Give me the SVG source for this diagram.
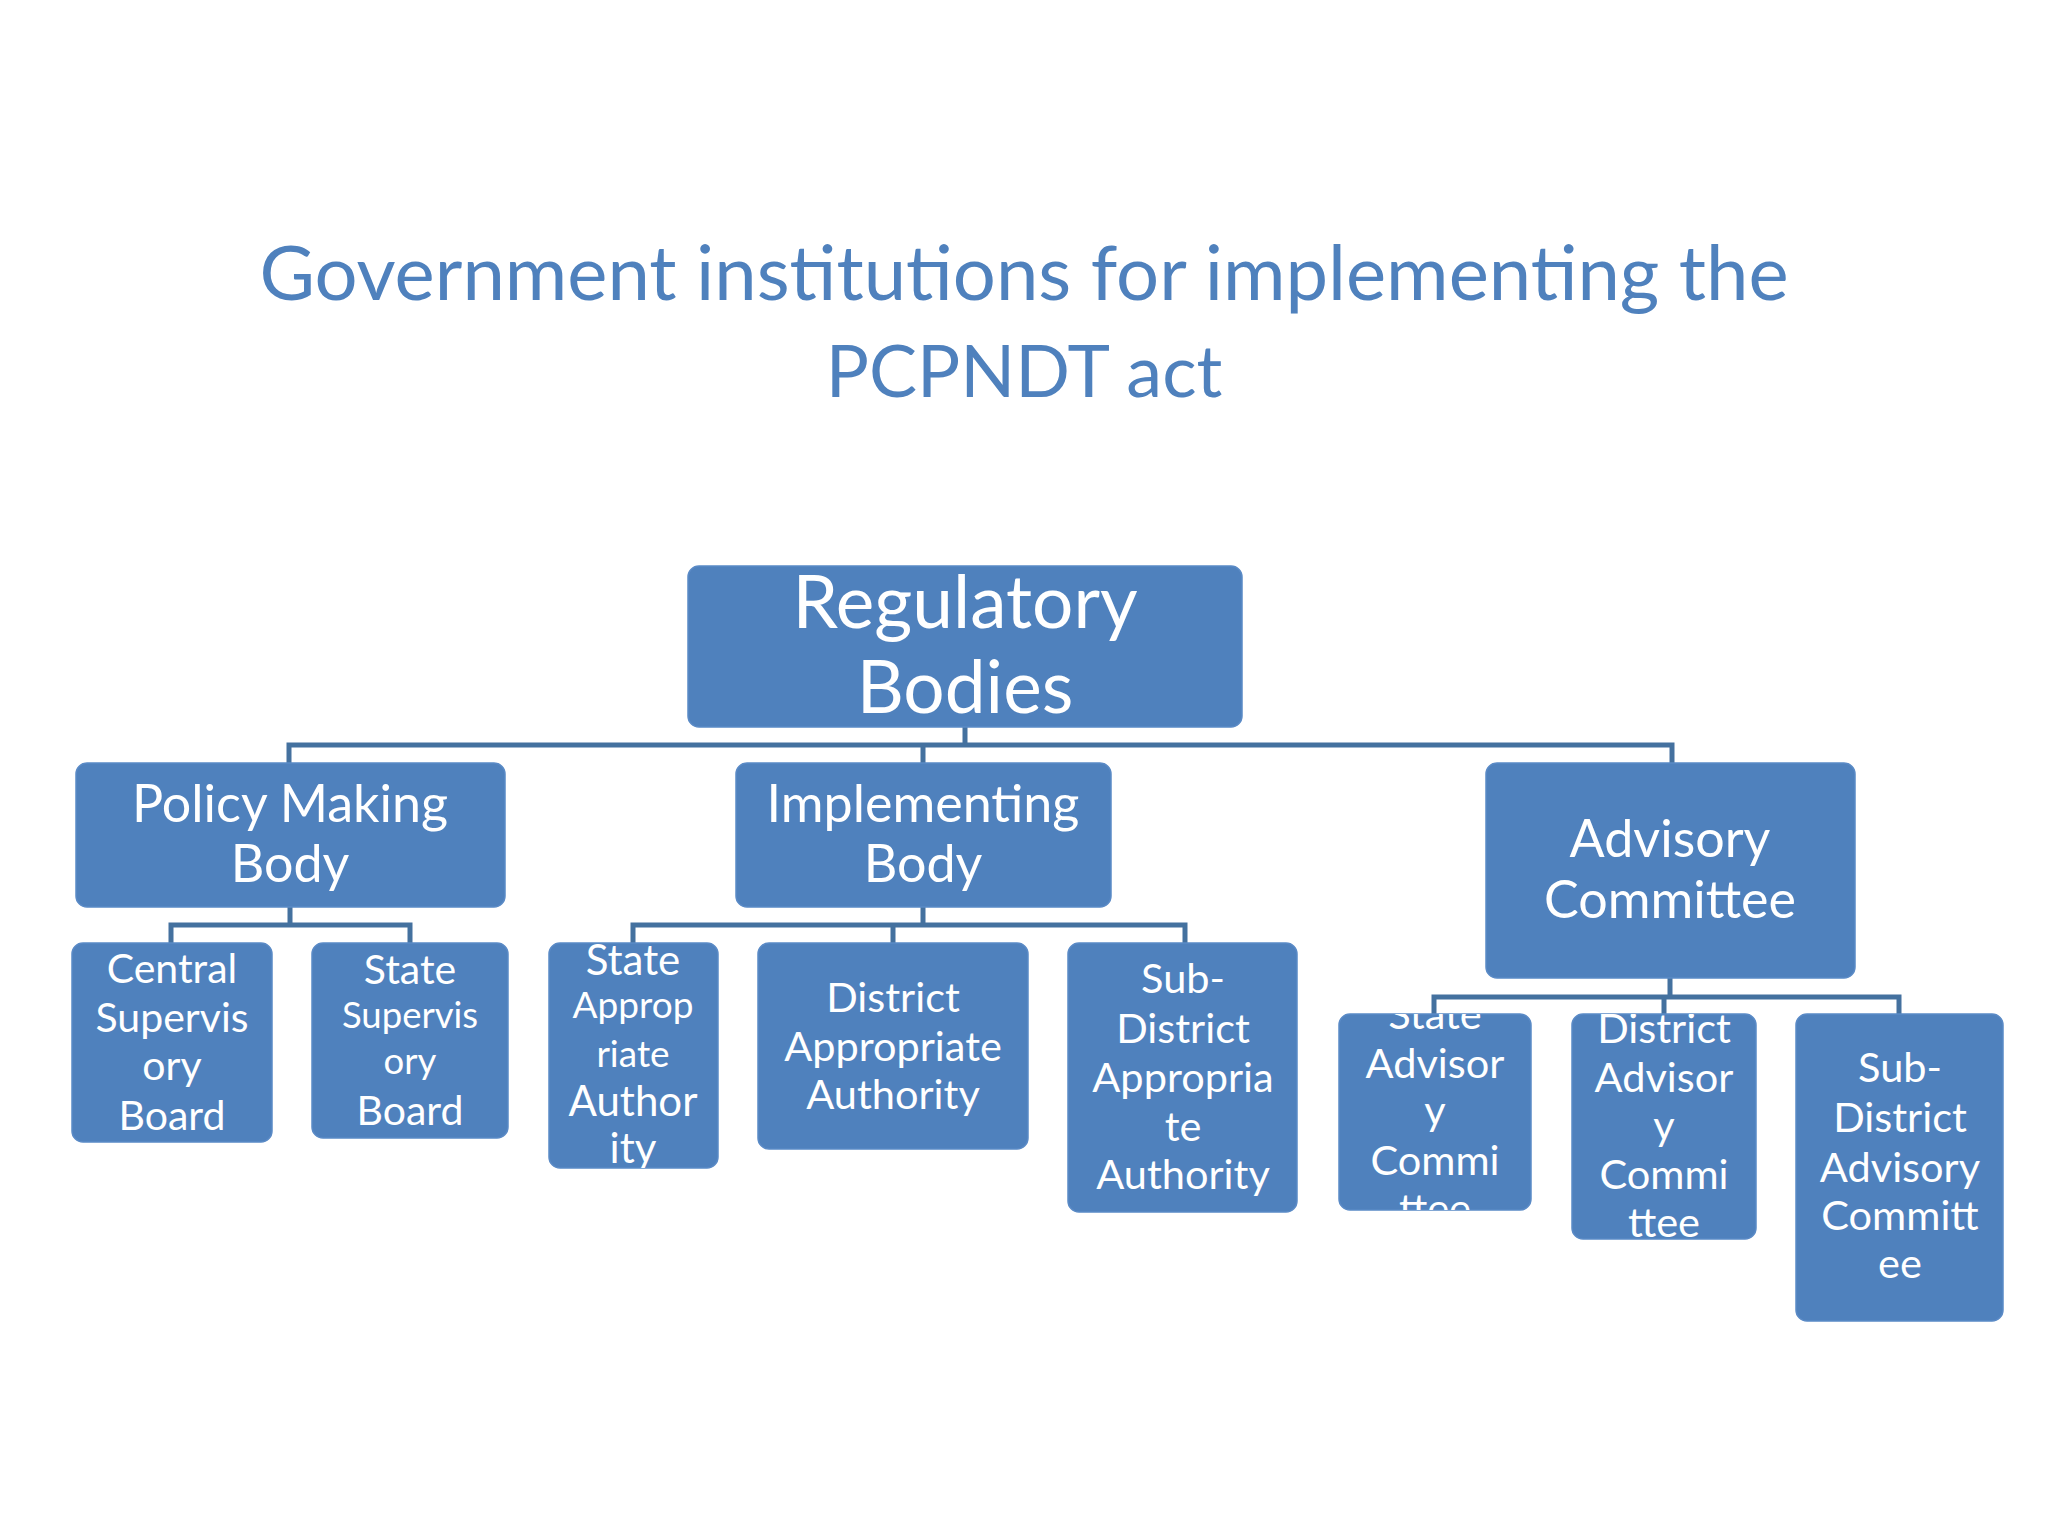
<svg xmlns="http://www.w3.org/2000/svg" width="2048" height="1536" viewBox="0 0 2048 1536">
<style>
.title{font-family:Lato,"Open Sans","Liberation Sans",sans-serif;fill:#4F81BD;text-anchor:middle}
.box{fill:#4F81BD;stroke:#5A8AC6;stroke-width:1.5}
.t{font-family:Lato,"Open Sans","Liberation Sans",sans-serif;fill:#FFFFFF;text-anchor:middle}
.conn{fill:none;stroke:#44719F;stroke-width:5;stroke-linecap:square}
</style>
<defs>
<clipPath id="c-saa"><rect x="549" y="943" width="169" height="225" rx="11"/></clipPath>
<clipPath id="c-sac"><rect x="1339" y="1014" width="192" height="196" rx="11"/></clipPath>
<clipPath id="c-dac"><rect x="1572" y="1014" width="184" height="225" rx="11"/></clipPath>
</defs>
<rect width="2048" height="1536" fill="#FFFFFF"/>
<g id="title">
<text class="title"><tspan x="1024" y="300" font-size="76">Government institutions for implementing the</tspan><tspan x="1024" y="397" font-size="72">PCPNDT act</tspan></text>
</g>
<g id="connectors">
<path class="conn" d="M965 727 V745 M289 745 H1672 M289 745 V762 M923 745 V762 M1672 745 V762"/>
<path class="conn" d="M290 907 V925 M171 925 H410 M171 925 V942 M410 925 V942"/>
<path class="conn" d="M923 907 V925 M633 925 H1185 M633 925 V942 M893 925 V942 M1185 925 V942"/>
<path class="conn" d="M1670 978 V997 M1434 997 H1899 M1434 997 V1013 M1664 997 V1013 M1899 997 V1013"/>
</g>
<g id="regulatory-bodies">
<rect class="box" x="688" y="566" width="554" height="161" rx="11"/>
<text class="t" font-size="73"><tspan x="965" y="628">Regulatory</tspan><tspan x="965" y="713">Bodies</tspan></text>
</g>
<g id="policy-making-body">
<rect class="box" x="76" y="763" width="429" height="144" rx="11"/>
<text class="t" font-size="52"><tspan x="290" y="822">Policy Making</tspan><tspan x="290" y="882">Body</tspan></text>
</g>
<g id="implementing-body">
<rect class="box" x="736" y="763" width="375" height="144" rx="11"/>
<text class="t" font-size="52"><tspan x="923" y="822">Implementing</tspan><tspan x="923" y="882">Body</tspan></text>
</g>
<g id="advisory-committee">
<rect class="box" x="1486" y="763" width="369" height="215" rx="11"/>
<text class="t" font-size="52"><tspan x="1670" y="857">Advisory</tspan><tspan x="1670" y="918">Committee</tspan></text>
</g>
<g id="central-supervisory-board">
<rect class="box" x="72" y="943" width="200" height="199" rx="11"/>
<text class="t" font-size="41"><tspan x="172" y="983">Central</tspan><tspan x="172" y="1032">Supervis</tspan><tspan x="172" y="1080">ory</tspan><tspan x="172" y="1130">Board</tspan></text>
</g>
<g id="state-supervisory-board">
<rect class="box" x="312" y="943" width="196" height="195" rx="11"/>
<text class="t" font-size="41"><tspan x="410" y="984">State</tspan><tspan x="410" y="1028" font-size="36.5">Supervis</tspan><tspan x="410" y="1074" font-size="36.5">ory</tspan><tspan x="410" y="1125">Board</tspan></text>
</g>
<g id="state-appropriate-authority">
<rect class="box" x="549" y="943" width="169" height="225" rx="11"/>
<text class="t" font-size="42" clip-path="url(#c-saa)"><tspan x="633" y="975">State</tspan><tspan x="633" y="1018" font-size="37">Approp</tspan><tspan x="633" y="1067" font-size="37">riate</tspan><tspan x="633" y="1116">Author</tspan><tspan x="633" y="1163">ity</tspan></text>
</g>
<g id="district-appropriate-authority">
<rect class="box" x="758" y="943" width="270" height="206" rx="11"/>
<text class="t" font-size="41.5"><tspan x="893" y="1012">District</tspan><tspan x="893" y="1061">Appropriate</tspan><tspan x="893" y="1109">Authority</tspan></text>
</g>
<g id="sub-district-appropriate-authority">
<rect class="box" x="1068" y="943" width="229" height="269" rx="11"/>
<text class="t" font-size="41.5"><tspan x="1183" y="993">Sub-</tspan><tspan x="1183" y="1043">District</tspan><tspan x="1183" y="1092">Appropria</tspan><tspan x="1183" y="1141">te</tspan><tspan x="1183" y="1189">Authority</tspan></text>
</g>
<g id="state-advisory-committee">
<rect class="box" x="1339" y="1014" width="192" height="196" rx="11"/>
<text class="t" font-size="41.5" clip-path="url(#c-sac)"><tspan x="1435" y="1029">State</tspan><tspan x="1435" y="1078">Advisor</tspan><tspan x="1435" y="1125">y</tspan><tspan x="1435" y="1175">Commi</tspan><tspan x="1435" y="1223">ttee</tspan></text>
</g>
<g id="district-advisory-committee">
<rect class="box" x="1572" y="1014" width="184" height="225" rx="11"/>
<text class="t" font-size="41.5" clip-path="url(#c-dac)"><tspan x="1664" y="1043">District</tspan><tspan x="1664" y="1092">Advisor</tspan><tspan x="1664" y="1140">y</tspan><tspan x="1664" y="1189">Commi</tspan><tspan x="1664" y="1237">ttee</tspan></text>
</g>
<g id="sub-district-advisory-committee">
<rect class="box" x="1796" y="1014" width="207" height="307" rx="11"/>
<text class="t" font-size="41.5"><tspan x="1900" y="1082">Sub-</tspan><tspan x="1900" y="1132">District</tspan><tspan x="1900" y="1182">Advisory</tspan><tspan x="1900" y="1230">Committ</tspan><tspan x="1900" y="1278">ee</tspan></text>
</g>
</svg>
